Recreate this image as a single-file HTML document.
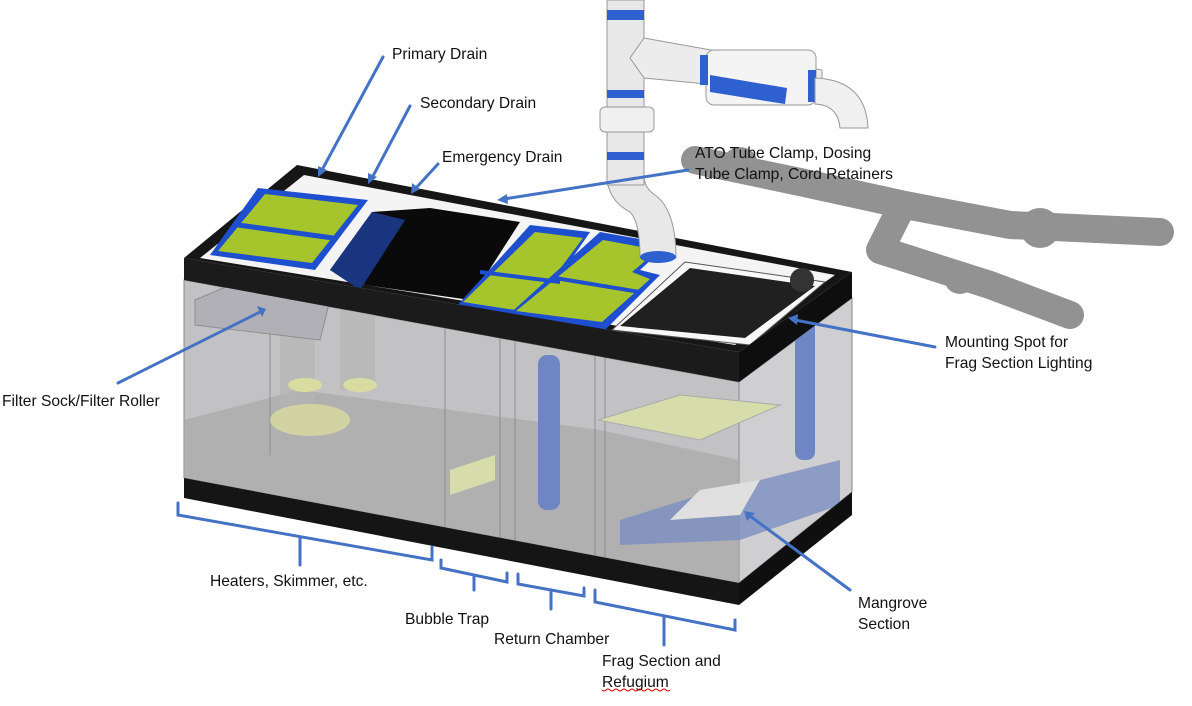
<!DOCTYPE html>
<html><head><meta charset="utf-8"><style>
html,body{margin:0;padding:0;background:#fff;}
svg{display:block;}
text{font-family:"Liberation Sans",sans-serif;font-size:15.6px;fill:#111;}
</style></head><body>
<svg width="1192" height="706" viewBox="0 0 1192 706" xmlns="http://www.w3.org/2000/svg">
<g stroke="#929292" stroke-width="28" fill="none" stroke-linejoin="round" stroke-linecap="round">
<polyline points="695,160 800,182 905,205 1010,225 1160,232"/>
<polyline points="900,210 880,250 990,285 1070,315"/>
</g>
<g fill="#929292"><circle cx="1040" cy="228" r="20"/><circle cx="960" cy="278" r="16"/><circle cx="740" cy="165" r="18"/></g>
<polygon points="184,280 739,382 739,583 184,478" fill="#c2c2c4" stroke="#888"/>
<polygon points="739,382 852,298 852,492 739,583" fill="#cfcfd2" stroke="#888"/>
<polygon points="184,420 300,390 600,430 739,460 739,583 184,478" fill="#a8a8aa" opacity="0.7"/>
<g stroke="#8d8d8d" fill="none">
<line x1="445" y1="325" x2="445" y2="530"/><line x1="500" y1="335" x2="500" y2="540"/>
<line x1="515" y1="338" x2="515" y2="545"/><line x1="595" y1="352" x2="595" y2="560"/>
<line x1="605" y1="354" x2="605" y2="560"/><line x1="270" y1="295" x2="270" y2="455"/>
</g>
<rect x="538" y="355" width="22" height="155" rx="9" fill="#6f86c4"/>
<rect x="795" y="310" width="20" height="150" rx="8" fill="#6f86c4"/>
<rect x="280" y="310" width="35" height="95" fill="#b5b5b5" opacity="0.7"/>
<rect x="340" y="310" width="35" height="80" fill="#b5b5b5" opacity="0.7"/>
<ellipse cx="310" cy="420" rx="40" ry="16" fill="#d9dca0" opacity="0.8"/>
<ellipse cx="360" cy="385" rx="17" ry="7" fill="#d9dca0"/>
<ellipse cx="305" cy="385" rx="17" ry="7" fill="#d9dca0"/>
<polygon points="195,300 230,285 330,300 320,340 195,325" fill="#b0b0b6" stroke="#8f8f8f"/>
<polygon points="598,420 680,395 780,405 700,440" fill="#d6dcaa" stroke="#aaa"/>
<polygon points="450,470 495,455 495,480 450,495" fill="#d6dcaa"/>
<polygon points="620,520 700,495 840,460 840,505 740,540 620,545" fill="#7b8ec0" opacity="0.8"/>
<polygon points="670,520 700,490 760,480 740,515" fill="#e0e0e0"/>
<polygon points="184,478 739,583 739,605 184,498" fill="#151515"/>
<polygon points="739,583 852,492 852,515 739,605" fill="#0f0f0f"/>
<polygon points="297,165 852,272 739,352 184,258" fill="#161616"/>
<polygon points="304,175 835,275 735,345 200,258" fill="#f4f4f4"/>
<polygon points="258,188 368,200 315,270 210,255" fill="#1d4fcf"/>
<polygon points="265,194 358,205 312,263 218,251" fill="#a6c52c"/>
<line x1="238" y1="225" x2="333" y2="238" stroke="#1d4fcf" stroke-width="5"/>
<polygon points="372,212 430,208 520,222 470,300 365,285 330,270" fill="#0a0a0a"/>
<polygon points="330,270 372,212 405,220 360,290" fill="#1a3580"/>
<polygon points="530,225 590,232 530,320 455,308" fill="#1d4fcf"/>
<polygon points="535,232 583,238 528,312 463,302" fill="#a6c52c"/>
<polygon points="600,232 668,244 640,270 660,275 605,330 505,318" fill="#1d4fcf"/>
<polygon points="603,240 658,250 632,272 650,279 602,322 516,311" fill="#a6c52c"/>
<line x1="480" y1="272" x2="560" y2="282" stroke="#1d4fcf" stroke-width="4"/>
<line x1="555" y1="278" x2="640" y2="292" stroke="#1d4fcf" stroke-width="4"/>
<polygon points="685,262 825,282 750,345 612,330" fill="#f8f8f8" stroke="#555"/>
<polygon points="690,268 815,286 745,338 620,326" fill="#202020"/>
<circle cx="802" cy="280" r="12" fill="#333"/>
<polygon points="184,258 739,352 739,382 184,280" fill="#1b1b1b"/>
<polygon points="739,352 852,272 852,298 739,382" fill="#0e0e0e"/>
<!-- pipes on top -->
<g>
<path d="M607 175 Q607 200 630 212 Q640 222 640 258 L676 258 Q676 210 655 195 Q644 188 644 175 Z" fill="#e8e8e8" stroke="#999"/>
<rect x="607" y="0" width="37" height="185" fill="#e8e8e8" stroke="#999"/>
<rect x="607" y="10" width="37" height="10" fill="#2f60d0"/>
<rect x="607" y="90" width="37" height="8" fill="#2f60d0"/>
<rect x="600" y="107" width="54" height="25" rx="5" fill="#f0f0f0" stroke="#999"/>
<rect x="607" y="152" width="37" height="8" fill="#2f60d0"/>
<ellipse cx="658" cy="257" rx="18" ry="6" fill="#2f60d0"/>
<polygon points="644,38 822,70 822,95 644,78 630,58" fill="#ececec" stroke="#999"/>
<rect x="706" y="50" width="110" height="55" rx="8" fill="#f4f4f4" stroke="#999"/>
<polygon points="710,75 787,88 785,104 710,92" fill="#2f60d0"/>
<rect x="700" y="55" width="8" height="30" fill="#2f60d0"/>
<rect x="808" y="70" width="8" height="32" fill="#2f60d0"/>
<path d="M815 78 Q866 80 868 128 L840 128 Q838 105 815 104 Z" fill="#f0f0f0" stroke="#999"/>
</g>
<g stroke="#4472c4" stroke-width="3" fill="none" stroke-linecap="round">
<line x1="383" y1="57" x2="322" y2="170"/>
<line x1="410" y1="106" x2="372" y2="178"/>
<line x1="438" y1="164" x2="416" y2="188"/>
<line x1="688" y1="170" x2="504" y2="199"/>
<line x1="935" y1="347" x2="795" y2="320"/>
<line x1="118" y1="383" x2="260" y2="312"/>
<line x1="850" y1="590" x2="750" y2="516"/>
<polyline points="178,503 178,515 432,560 432,547"/>
<line x1="300" y1="537" x2="300" y2="565"/>
<polyline points="441,560 441,568 507,582 507,573"/>
<line x1="474" y1="575" x2="474" y2="590"/>
<polyline points="518,574 518,584 584,596 584,588"/>
<line x1="551" y1="590" x2="551" y2="609"/>
<polyline points="595,590 595,602 735,630 735,620"/>
<line x1="664" y1="616" x2="664" y2="645"/>
</g>
<g fill="#4472c4">
<polygon points="318,177 318,166 327,170"/>
<polygon points="368,184 368,173 377,177"/>
<polygon points="411,194 412,183 420,189"/>
<polygon points="497,200 507,194 508,204"/>
<polygon points="788,318 798,314 797,325"/>
<polygon points="266,309 257,306 262,317"/>
<polygon points="744,511 747,521 755,513"/>
</g>
<text x="392" y="59">Primary Drain</text>
<text x="420" y="108">Secondary Drain</text>
<text x="442" y="162">Emergency Drain</text>
<text x="695" y="158">ATO Tube Clamp, Dosing</text>
<text x="695" y="179">Tube Clamp, Cord Retainers</text>
<text x="945" y="347">Mounting Spot for</text>
<text x="945" y="368">Frag Section Lighting</text>
<text x="2" y="406">Filter Sock/Filter Roller</text>
<text x="210" y="586">Heaters, Skimmer, etc.</text>
<text x="405" y="624">Bubble Trap</text>
<text x="494" y="644">Return Chamber</text>
<text x="602" y="666">Frag Section and</text>
<text x="602" y="687">Refugium</text>
<path d="M602 690 q2 2 4 0 t4 0 t4 0 t4 0 t4 0 t4 0 t4 0 t4 0 t4 0 t4 0 t4 0 t4 0 t4 0 t4 0 t4 0 t4 0 t4 0" stroke="#c00" fill="none" stroke-width="1"/>
<text x="858" y="608">Mangrove</text>
<text x="858" y="629">Section</text>
</svg>
</body></html>
